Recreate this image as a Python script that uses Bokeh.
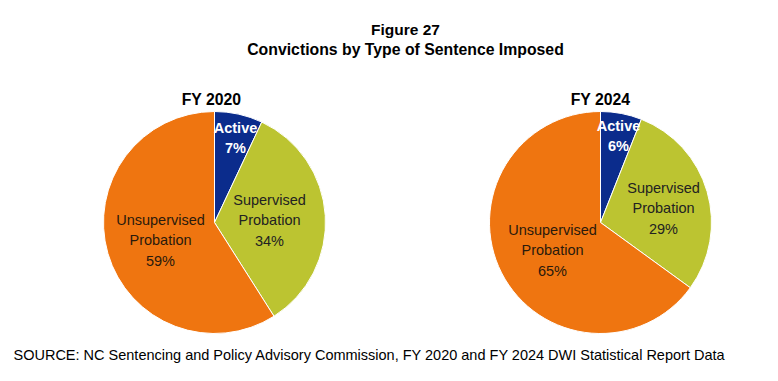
import math
from bokeh.plotting import figure
from bokeh.models import Range1d, ColumnDataSource
from bokeh.core.properties import value
from bokeh.embed import file_html
from bokeh.resources import INLINE

categories = ["Active", "Supervised Probation", "Unsupervised Probation"]
pct_2020 = [7, 34, 59]
pct_2024 = [6, 29, 65]
years = ["FY 2020", "FY 2024"]
colors = ["#0B2C8C", "#BCC431", "#EF7510"]
label_colors = ["#FFFFFF", "#222222", "#2A1A0C"]

W, H = 762, 365
p = figure(width=W, height=H, output_backend="svg", toolbar_location=None,
           x_range=Range1d(0, 762), y_range=Range1d(16, 381),
           min_border=0, outline_line_color=None)
p.axis.visible = False
p.grid.visible = False
p.background_fill_color = "white"
p.border_fill_color = "white"

FONT = "Liberation Sans"

def Y(y):
    return 381 - y

centers = [(214, Y(222)), (600, Y(222))]
R = 111

label_offsets = [
    [(21, -95), (55, -23), (-54, -3)],
    [(18, -97), (63, -35), (-48, 7)],
]
title_x = [211, 600]

for k, (vals, yr) in enumerate(zip([pct_2020, pct_2024], years)):
    cx, cy = centers[k]
    tot = sum(vals)
    starts, ends = [], []
    c = 0
    for v in vals:
        starts.append(math.pi / 2 - 2 * math.pi * c / tot)
        c += v
        ends.append(math.pi / 2 - 2 * math.pi * c / tot)
    src = ColumnDataSource(dict(x=[cx] * 3, y=[cy] * 3, s=starts, e=ends, color=colors))
    p.wedge(x="x", y="y", radius=R, start_angle="s", end_angle="e", direction="clock",
            fill_color="color", line_color="white", line_width=1, source=src)
    p.text(x=[title_x[k]], y=[Y(99)], text=[yr], text_font=value(FONT), text_font_style="bold",
           text_font_size="15.8px", text_align="center", text_baseline="middle", text_color="#000000")
    for i, cat in enumerate(categories):
        ox, oy = label_offsets[k][i]
        lines = cat.split(" ") + [f"{vals[i]}%"]
        bold = "bold" if i == 0 else "normal"
        for j, ln in enumerate(lines):
            p.text(x=[cx + ox], y=[cy - oy - j * 20.5], text=[ln], text_font=value(FONT),
                   text_font_style=bold, text_font_size="14.5px", text_align="center",
                   text_baseline="middle", text_color=label_colors[i])

p.text(x=[405], y=[Y(29)], text=["Figure 27"], text_font=value(FONT), text_font_style="bold",
       text_font_size="15.5px", text_align="center", text_baseline="middle", text_color="#000000")
p.text(x=[405], y=[Y(49)], text=["Convictions by Type of Sentence Imposed"], text_font=value(FONT),
       text_font_style="bold", text_font_size="15.8px", text_align="center", text_baseline="middle",
       text_color="#000000")
p.text(x=[13], y=[Y(354)], text=["SOURCE: NC Sentencing and Policy Advisory Commission, FY 2020 and FY 2024 DWI Statistical Report Data"],
       text_font=value(FONT), text_font_size="14.5px", text_align="left", text_baseline="middle",
       text_color="#000000")

open("out.html", "w").write(file_html(p, INLINE))
